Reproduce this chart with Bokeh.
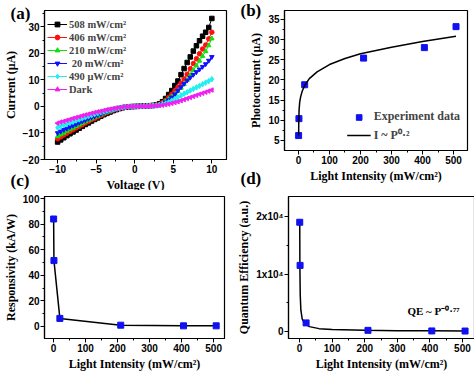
from bokeh.plotting import figure
from bokeh.layouts import column, row
from bokeh.models import Label, Legend, LegendItem, FixedTicker, Range1d, Title
from bokeh.embed import file_html
from bokeh.resources import INLINE

# ---------------- data ----------------
voltage = [-10.0, -9.6, -9.2, -8.8, -8.4, -8.0, -7.6, -7.2, -6.8, -6.4, -6.0, -5.6, -5.2,
           -4.8, -4.4, -4.0, -3.6, -3.2, -2.8, -2.4, -2.0, -1.6, -1.2, -0.8, -0.4, 0.0,
           0.4, 0.8, 1.2, 1.6, 2.0, 2.4, 2.8, 3.2, 3.6, 4.0, 4.4, 4.8, 5.2, 5.6, 6.0,
           6.4, 6.8, 7.2, 7.6, 8.0, 8.4, 8.8, 9.2, 9.6, 10.0]

i_508 = [-13.4, -12.6, -11.8, -11.0, -10.3, -9.6, -8.9, -8.2, -7.5, -6.8, -6.2, -5.5, -4.9,
         -4.3, -3.7, -3.1, -2.6, -2.1, -1.6, -1.2, -0.8, -0.5, -0.3, -0.15, -0.05, 0.0,
         0.05, 0.1, 0.15, 0.2, 0.3, 0.4, 0.6, 1.0, 1.8, 3.0, 4.5, 6.0, 7.9, 9.6, 12.0,
         14.3, 16.6, 18.7, 20.9, 22.9, 24.8, 26.5, 28.0, 29.8, 33.2]
i_406 = [-12.2, -11.5, -10.8, -10.1, -9.4, -8.8, -8.1, -7.5, -6.9, -6.2, -5.6, -5.0, -4.5,
         -3.9, -3.4, -2.8, -2.3, -1.9, -1.4, -1.1, -0.7, -0.45, -0.25, -0.12, -0.04, 0.0,
         0.05, 0.1, 0.15, 0.2, 0.28, 0.38, 0.5, 0.8, 1.4, 2.3, 3.4, 4.6, 5.9, 7.3, 8.8,
         10.4, 12.2, 14.2, 16.2, 18.0, 19.9, 21.7, 23.2, 25.5, 28.0]
i_210 = [-11.3, -10.6, -10.0, -9.3, -8.7, -8.1, -7.5, -6.9, -6.3, -5.7, -5.2, -4.6, -4.1,
         -3.6, -3.1, -2.6, -2.2, -1.8, -1.3, -1.0, -0.7, -0.42, -0.24, -0.11, -0.04, 0.0,
         0.05, 0.1, 0.14, 0.19, 0.26, 0.35, 0.45, 0.7, 1.2, 2.0, 2.8, 3.7, 4.7, 5.8, 7.0,
         8.4, 10.0, 11.8, 13.7, 15.4, 17.2, 19.0, 20.8, 23.0, 25.6]
i_20 = [-10.0, -9.4, -8.8, -8.3, -7.7, -7.2, -6.7, -6.1, -5.6, -5.1, -4.6, -4.1, -3.7,
        -3.2, -2.8, -2.3, -1.9, -1.6, -1.2, -0.9, -0.6, -0.38, -0.22, -0.1, -0.03, 0.0,
        0.04, 0.08, 0.12, 0.17, 0.23, 0.3, 0.4, 0.6, 1.0, 1.6, 2.4, 3.4, 4.6, 6.0, 7.3,
        8.6, 9.8, 10.9, 12.0, 13.0, 14.0, 15.0, 16.0, 17.3, 18.7]
i_049 = [-8.0, -7.5, -7.1, -6.6, -6.2, -5.8, -5.3, -4.9, -4.5, -4.1, -3.7, -3.3, -2.9,
         -2.6, -2.2, -1.9, -1.6, -1.3, -1.0, -0.7, -0.5, -0.3, -0.18, -0.08, -0.03, 0.0,
         0.03, 0.06, 0.1, 0.14, 0.19, 0.25, 0.33, 0.5, 0.8, 1.1, 1.6, 2.2, 2.8, 3.5, 4.1,
         4.8, 5.4, 6.0, 6.6, 7.2, 7.8, 8.4, 9.0, 9.6, 10.3]
i_dark = [-6.3, -5.9, -5.6, -5.2, -4.9, -4.5, -4.2, -3.9, -3.5, -3.2, -2.9, -2.6, -2.3,
          -2.0, -1.8, -1.5, -1.2, -1.0, -0.8, -0.6, -0.4, -0.25, -0.14, -0.06, -0.02, 0.0,
          0.03, 0.06, 0.09, 0.12, 0.16, 0.21, 0.28, 0.4, 0.5, 0.7, 0.9, 1.2, 1.5, 1.8, 2.2,
          2.6, 3.0, 3.4, 3.8, 4.2, 4.6, 5.0, 5.4, 5.8, 6.2]

series_labels = ["508 mW/cm²", "406 mW/cm²", "210 mW/cm²", " 20 mW/cm²", "490 μW/cm²", "Dark"]
series_data = [i_508, i_406, i_210, i_20, i_049, i_dark]

intensity = [0.49, 1.5, 20, 210, 406, 508]
photocurrent = [6.2, 10.4, 18.8, 25.4, 28.0, 33.2]
fit_b_x = [0.5, 1, 2, 4, 7, 12, 20, 35, 60, 100, 150, 200, 300, 400, 508]
fit_b_y = [6.2, 9.5, 12.5, 14.5, 15.8, 17.2, 18.6, 20.3, 22.0, 23.8, 25.3, 26.5, 28.1, 29.5, 30.8]

responsivity = [84.0, 51.5, 6.3, 1.0, 0.5, 0.5]

qe = [19000, 11500, 1500, 200, 100, 80]
fit_d_x = [0.49, 1, 2, 4, 8, 15, 30, 60, 100, 200, 300, 400, 508]
fit_d_y = [19000, 11000, 6400, 3700, 2200, 1400, 850, 500, 340, 200, 150, 115, 95]

# ---------------- styling ----------------
SERIF = "Liberation Serif"
SANS = "Liberation Sans"
BLUE = "#1010f0"


def make_fig(xr, yr, xticks, xminor, yticks, yminor, xlabel, ylabel,
             fw, fh, left, right, top, bottom):
    p = figure(frame_width=fw, frame_height=fh, x_range=Range1d(*xr), y_range=Range1d(*yr),
               output_backend="svg", toolbar_location=None,
               min_border_left=left, min_border_right=right,
               min_border_top=top, min_border_bottom=bottom)
    p.background_fill_color = "white"
    p.border_fill_color = "white"
    p.outline_line_color = "black"
    p.outline_line_width = 1.2
    p.grid.visible = False
    p.xaxis.ticker = FixedTicker(ticks=xticks, minor_ticks=xminor)
    p.yaxis.ticker = FixedTicker(ticks=yticks, minor_ticks=yminor)
    p.xaxis.axis_label = xlabel
    p.yaxis.axis_label = ylabel
    for ax in p.axis:
        ax.axis_line_color = "black"
        ax.axis_line_width = 1.2
        ax.major_tick_out = 4
        ax.major_tick_in = 0
        ax.minor_tick_out = 2
        ax.minor_tick_in = 0
        ax.major_tick_line_color = "black"
        ax.minor_tick_line_color = "black"
        ax.major_label_text_font = SANS
        ax.major_label_text_font_style = "bold"
        ax.major_label_text_font_size = "10px"
        ax.major_label_text_color = "black"
        ax.major_label_standoff = 1
        ax.axis_label_text_font = SERIF
        ax.axis_label_text_font_style = "bold"
        ax.axis_label_text_font_size = "12px"
        ax.axis_label_text_color = "black"
        ax.axis_label_standoff = 2
    return p


def panel_title(p, text, side, offset, standoff, valign):
    t = Title(text=text, align="left", offset=offset, standoff=standoff,
              vertical_align=valign, text_font=SERIF, text_font_style="bold",
              text_font_size="17px", text_color="black")
    p.add_layout(t, side)


lin_ticks = [0, 100, 200, 300, 400, 500]
lin_minor = [50, 150, 250, 350, 450]

# (a)
pa = make_fig((-11.7, 11.9), (-20, 36.2), [-10, -5, 0, 5, 10], [-7.5, -2.5, 2.5, 7.5],
              [-20, -10, 0, 10, 20, 30], [-15, -5, 5, 15, 25, 35],
              "Voltage (V)", "Current (μA)", 182, 149, 34, 8, 5, 36)
colors = ["black", "#ff1010", "#10e010", "#1010ff", "#20f0f0", "#f020f0"]
markers = ["square", "circle", "triangle", "inverted_triangle", "diamond", "triangle"]
angles = [0, 0, 0, 0, 0, 1.5708]
items = []
for lab, ys, c, m, a in zip(series_labels, series_data, colors, markers, angles):
    r1 = pa.line(voltage, ys, line_color=c, line_width=1)
    r2 = pa.scatter(voltage, ys, marker=m, size=4.5 if m != "diamond" else 5.5, angle=a,
                    fill_color=c, line_color=c)
    items.append(LegendItem(label=lab, renderers=[r1, r2]))
leg_a = Legend(items=items, location=(3, 64), margin=0, padding=0, spacing=1,
               label_height=12, glyph_height=12, glyph_width=20, label_standoff=2,
               label_text_font=SERIF, label_text_font_style="bold", label_text_font_size="10.5px",
               border_line_color=None, background_fill_alpha=0)
pa.add_layout(leg_a)
panel_title(pa, "(a)", "above", -34, -24, "bottom")
panel_title(pa, "(c)", "below", -34, -48, "top")

# (b)
pb = make_fig((-45, 545), (2.5, 37.2), lin_ticks, lin_minor,
              [5, 10, 15, 20, 25, 30, 35], [7.5, 12.5, 17.5, 22.5, 27.5, 32.5],
              "Light Intensity (mW/cm²)", "Photocurrent (μA)", 183, 140, 50, 8, 10, 40)
rb1 = pb.scatter(intensity, photocurrent, marker="square", size=6, fill_color=BLUE, line_color=BLUE)
rb2 = pb.line(fit_b_x, fit_b_y, line_color="black", line_width=1.5)
leg_b = Legend(items=[LegendItem(label="Experiment data", renderers=[rb1]),
                      LegendItem(label="I ~ P⁰·²", renderers=[rb2])],
               location="bottom_right", margin=7, padding=2, spacing=2,
               label_height=14, glyph_height=14, glyph_width=24, label_standoff=3,
               label_text_font=SERIF, label_text_font_style="bold", label_text_font_size="12px",
               border_line_color=None, background_fill_alpha=0)
pb.add_layout(leg_b)
panel_title(pb, "(b)", "above", -44, -18, "bottom")
panel_title(pb, "(d)", "below", -44, -33, "top")

# (c)
pc = make_fig((-28, 534), (-9.4, 101.6), lin_ticks, lin_minor,
              [0, 20, 40, 60, 80, 100], [10, 30, 50, 70, 90],
              "Light Intensity (mW/cm²)", "Responsivity (kA/W)", 180, 142, 34, 10, 6, 33)
pc.line(intensity, responsivity, line_color="black", line_width=1.5)
pc.scatter(intensity, responsivity, marker="square", size=6, fill_color=BLUE, line_color=BLUE)

# (d)
pd_ = make_fig((-34, 537), (-1217, 23480), lin_ticks, lin_minor,
               [0, 10000, 20000], [5000, 15000],
               "Light Intensity (mW/cm²)", "Quantum Efficiency (a.u.)", 186, 142, 49, 7, 6, 33)
pd_.yaxis.major_label_overrides = {0: "0", 10000: "1x10⁴", 20000: "2x10⁴"}
pd_.line(fit_d_x, fit_d_y, line_color="black", line_width=1.5)
pd_.scatter(intensity, qe, marker="square", size=6, fill_color=BLUE, line_color=BLUE)
pd_.add_layout(Label(x=411, y=3650, text="QE ~ P⁻⁰·⁷⁷", text_font=SERIF, text_font_style="bold",
                     text_font_size="11px", text_align="center", text_baseline="middle",
                     text_color="black"))

layout = column(row(pa, pb), row(pc, pd_))
open("out.html", "w").write(file_html(layout, INLINE))
